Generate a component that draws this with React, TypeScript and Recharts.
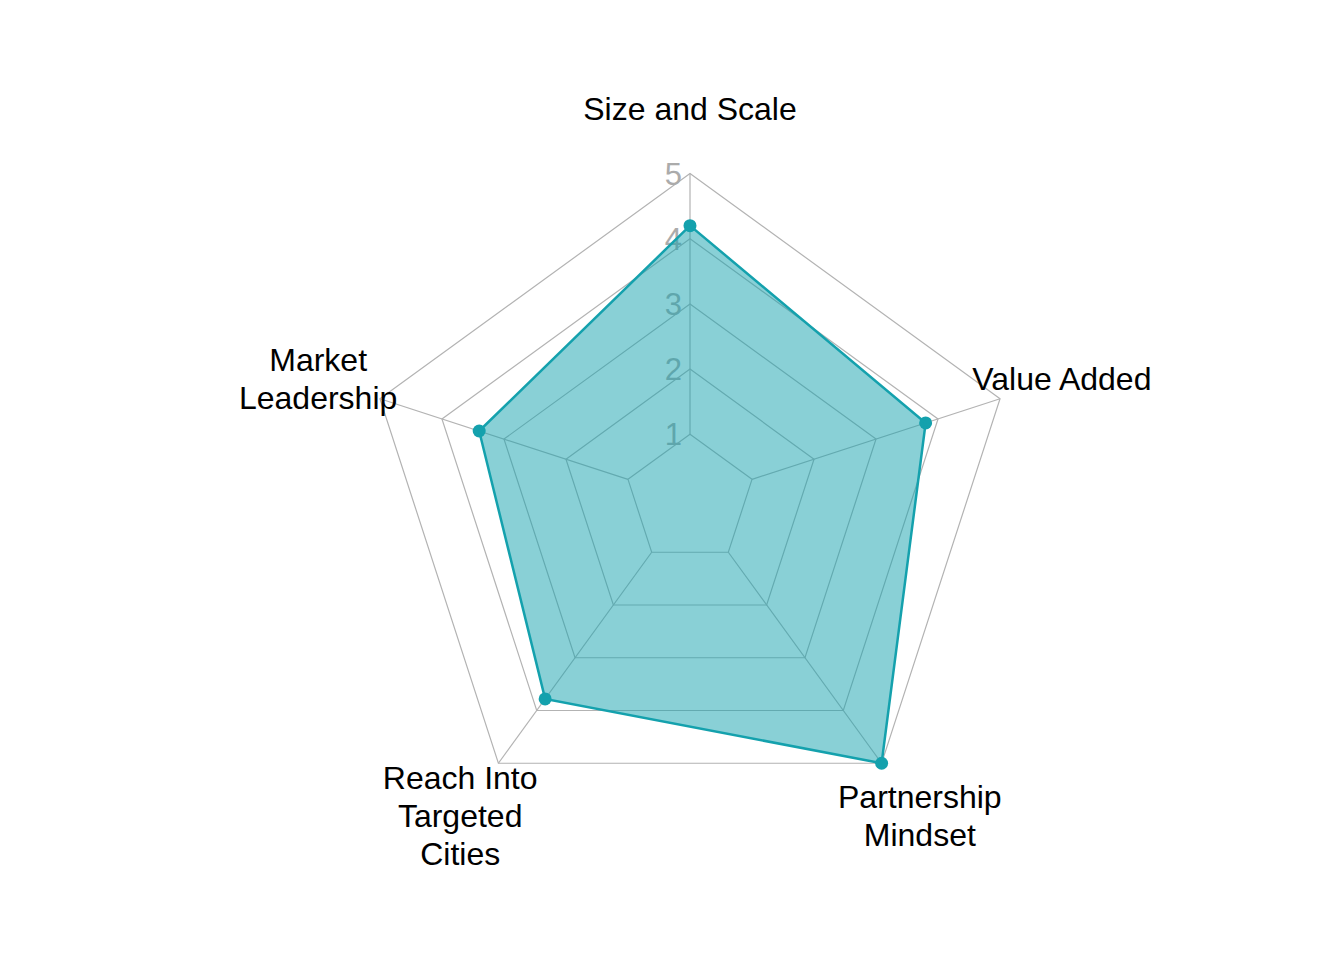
import React from "react";
import { RadarChart, Radar, PolarGrid, PolarAngleAxis, PolarRadiusAxis } from "recharts";

const categories = [
  "Size and Scale",
  "Value Added",
  "Partnership\nMindset",
  "Reach Into\nTargeted\nCities",
  "Market\nLeadership",
];
const scores = [4.2, 3.8, 5, 3.78, 3.4];
const radiusTicks = [1, 2, 3, 4, 5];

const data = categories.map((c, i) => ({ category: c, score: scores[i] }));

const FONT = "'Liberation Sans', Arial, Helvetica, sans-serif";
const TEAL = "#14a1ad";
const GRID = "#b3b3b3";

const AngleTick = (props: any) => {
  const { x, y, payload } = props;
  const lines = String(payload.value).split("\n");
  const lh = 38;
  const start = y - ((lines.length - 1) * lh) / 2;
  return (
    <g>
      {lines.map((ln, i) => (
        <text
          key={i}
          x={x}
          y={start + i * lh}
          dy="0.36em"
          textAnchor="middle"
          fontFamily={FONT}
          fontSize={32}
          fill="#000"
        >
          {ln}
        </text>
      ))}
    </g>
  );
};

const RadiusTick = (props: any) => {
  const { x, y, payload } = props;
  return (
    <text
      x={x - 8}
      y={y}
      dy="0.36em"
      textAnchor="end"
      fontFamily={FONT}
      fontSize={31}
      fill="#ababab"
    >
      {payload.value}
    </text>
  );
};

export default function App() {
  const radiusAxisProps: any = { zIndex: -50 };
  const radarProps: any = { zIndex: 600 };
  return (
    <div style={{ position: "absolute", left: 0, top: 0, width: 1344, height: 960, background: "#fff" }}>
      <RadarChart
        width={1344}
        height={960}
        data={data}
        cx={690}
        cy={499.5}
        innerRadius={65.2}
        outerRadius={326}
        margin={{ top: 0, right: 0, bottom: 0, left: 0 }}
      >
        <PolarGrid gridType="polygon" stroke={GRID} strokeWidth={1.2} />
        <PolarAngleAxis
          dataKey="category"
          tick={<AngleTick />}
          tickLine={false}
          axisLine={false}
          tickSize={65}
        />
        <PolarRadiusAxis
          angle={90}
          domain={[1, 5]}
          ticks={radiusTicks as any}
          tickCount={5}
          axisLine={false}
          tickLine={false}
          tick={<RadiusTick />}
          {...radiusAxisProps}
        />
        <Radar
          dataKey="score"
          stroke={TEAL}
          strokeWidth={2.5}
          fill={TEAL}
          fillOpacity={0.5}
          dot={{ r: 6.5, fill: TEAL, stroke: "none", fillOpacity: 1 }}
          isAnimationActive={false}
          {...radarProps}
        />
      </RadarChart>
    </div>
  );
}
